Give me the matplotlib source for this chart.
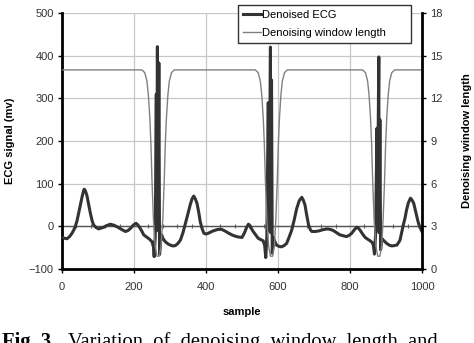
import matplotlib
matplotlib.use('Agg')
import matplotlib.pyplot as plt
from matplotlib.ticker import NullFormatter

plt.rcParams['font.family'] = 'Liberation Sans'

# denoised ECG trace (sample index, amplitude in mv)
ecg_x = [0, 7, 14, 21, 28, 33, 37, 42, 46, 51, 56, 60, 62, 65, 69, 74, 79, 84, 88, 95,
         102, 109, 116, 125, 134, 143, 153, 165, 176, 183, 190, 197, 203, 206, 210, 215,
         221, 227, 235, 243, 250, 254, 256, 259, 262, 263, 265, 267, 269, 271, 274, 277,
         280, 287, 294, 301, 308, 315, 322, 329, 336, 343, 350, 356, 361, 366, 370, 375,
         380, 384, 389, 394, 400, 407, 416, 426, 434, 443, 453, 463, 472, 481, 490, 500,
         507, 513, 518, 522, 526, 531, 538, 545, 552, 559, 563, 566, 569, 573, 575, 579,
         580, 582, 584, 587, 591, 596, 603, 610, 617, 624, 631, 638, 645, 652, 659, 666,
         670, 675, 680, 685, 690, 694, 703, 712, 724, 736, 745, 754, 763, 772, 781, 790,
         798, 805, 812, 819, 823, 828, 835, 842, 849, 856, 862, 865, 868, 871, 875, 876,
         880, 881, 883, 885, 888, 892, 902, 909, 916, 923, 930, 935, 939, 944, 948, 953,
         957, 962, 968, 972, 977, 983, 989, 994, 1000]
ecg_y = [-26, -28, -29, -24, -16, -8, 0, 14, 30, 50, 70, 84, 87, 83, 73, 52, 30, 12, 3, -3,
         -6, -4, -2, 2, 5, 3, -1, -7, -12, -10, -5, 2, 6, 7, 4, -2,
         -10, -20, -25, -30, -36, -48, -71, -25, 310, -5, 421, -10, 383, -66, -35, -20,
         -28, -36, -41, -44, -46, -45, -40, -32, -15, 7, 30, 50, 64, 71, 65, 54,
         32, 11, -5, -16, -18, -16, -12, -9, -7, -7, -11, -16, -20, -23, -25, -26,
         -15, -2, 5, 2, -5, -12, -20, -28, -31, -34, -45, -73, -25, 290, -10, 420,
         -15, 343, -63, -26, -35, -44, -47, -48, -45, -40, -25, -9, 15, 42, 60, 68,
         62, 50, 25, 3, -8, -12, -12, -11, -8, -6, -7, -10, -15, -20, -22, -24,
         -21, -16, -8, -2, -4, -9, -18, -26, -30, -34, -38, -45, -65, -20, 230, -10,
         397, -15, 250, -55, -28, -32, -40, -44, -46, -45, -44, -38, -32, -12, 3, 20,
         38, 55, 66, 62, 54, 32, 11, -2, -12]

# adaptive denoising window length (samples)
win_x = [0, 222, 230, 236, 240, 244, 247, 250, 254, 259, 264, 270, 275, 280, 284, 287,
         290, 294, 298, 304, 312,
         537, 545, 551, 555, 559, 562, 565, 569, 574, 579, 585, 590, 594, 598, 601,
         604, 608, 612, 618, 626,
         835, 843, 849, 853, 857, 860, 863, 867, 872, 877, 883, 888, 892, 896, 899,
         902, 906, 910, 916, 924, 1000]
win_y = [14, 14, 13.8, 13.2, 12.2, 10.6, 8.8, 6.2, 3.5, 1.6, 0.9, 0.9, 1.6, 3.5, 6.2, 8.8,
         10.6, 12.2, 13.2, 13.8, 14,
         14, 13.8, 13.2, 12.2, 10.6, 8.8, 6.2, 3.5, 1.6, 0.9, 0.9, 1.6, 3.5, 6.2, 8.8,
         10.6, 12.2, 13.2, 13.8, 14,
         14, 13.8, 13.2, 12.2, 10.6, 8.8, 6.2, 3.5, 1.6, 0.9, 0.9, 1.6, 3.5, 6.2, 8.8,
         10.6, 12.2, 13.2, 13.8, 14, 14]

fig = plt.figure(figsize=(4.74, 3.43), dpi=100)
ax = fig.add_axes([0.1308, 0.2157, 0.7595, 0.7464])

ax.plot(ecg_x, ecg_y, color='#333333', lw=2.2, label='Denoised ECG', zorder=3)
ax.set_xlim(0, 1000)
ax.set_ylim(-100, 500)
ax.set_xticks(range(0, 1001, 200))
ax.set_yticks(range(-100, 501, 100))
ax.grid(True, color='#c8c8c8', lw=0.9)
ax.set_axisbelow(True)

# horizontal axis crossing at zero with small ticks
ax.axhline(0, color='#555555', lw=1.0, zorder=2)
zero_ax = ax.secondary_xaxis(1 / 6)
zero_ax.set_xticks(range(0, 1001, 40))
zero_ax.xaxis.set_major_formatter(NullFormatter())
zero_ax.tick_params(direction='inout', length=3.5, width=0.8, color='#555555')
zero_ax.spines['top'].set_color('#555555')
zero_ax.spines['top'].set_linewidth(1.0)
zero_ax.spines['bottom'].set_visible(False)

ax2 = ax.twinx()
ax2.plot(win_x, win_y, color='#808080', lw=1.0, label='Denoising window length')
ax2.set_ylim(0, 18)
ax2.set_yticks(range(0, 19, 3))

for a in (ax, ax2):
    a.spines['top'].set_visible(False)
ax.spines['right'].set_visible(False)
ax.spines['left'].set_linewidth(2)
ax.spines['bottom'].set_linewidth(2)
ax2.spines['left'].set_visible(False)
ax2.spines['bottom'].set_visible(False)
ax2.spines['right'].set_linewidth(2)

ax.tick_params(axis='y', direction='out', length=3, width=1, labelsize=8,
               labelcolor='#333333', pad=3)
ax.tick_params(axis='x', direction='out', length=3, width=1, labelsize=8,
               labelcolor='#333333', pad=6)
ax2.tick_params(axis='y', direction='out', length=3, width=1, labelsize=8,
                labelcolor='#333333', pad=3)

ax.set_xlabel('sample', fontsize=8, fontweight='bold')
ax.xaxis.set_label_coords(0.5, -0.15)
ax.set_ylabel('ECG signal (mv)', fontsize=8, fontweight='bold')
ax.yaxis.set_label_coords(-0.13, 0.5)
ax2.set_ylabel('Denoising window length', fontsize=8, fontweight='bold')
ax2.yaxis.set_label_coords(1.11, 0.5)

h1, l1 = ax.get_legend_handles_labels()
h2, l2 = ax2.get_legend_handles_labels()
leg = ax2.legend(h1 + h2, l1 + l2, loc='lower left', bbox_to_anchor=(0.489, 0.883, 0.48, 0.2),
                 mode='expand', fontsize=8, fancybox=False, edgecolor='#333333',
                 framealpha=1, borderaxespad=0, handlelength=1.6, handletextpad=0.1,
                 labelspacing=0.75, borderpad=0.45)
leg.get_frame().set_linewidth(1.0)

# figure caption, cut by the bottom edge
fig.text(0.004, -0.0117, 'Fig. 3', fontfamily='Liberation Serif', fontweight='bold',
         fontsize=14.8, va='baseline')
fig.text(68 / 474, -0.0117, 'Variation  of  denoising  window  length  and',
         fontfamily='Liberation Serif', fontsize=14.8, va='baseline')

fig.savefig('out.png', dpi=100)
